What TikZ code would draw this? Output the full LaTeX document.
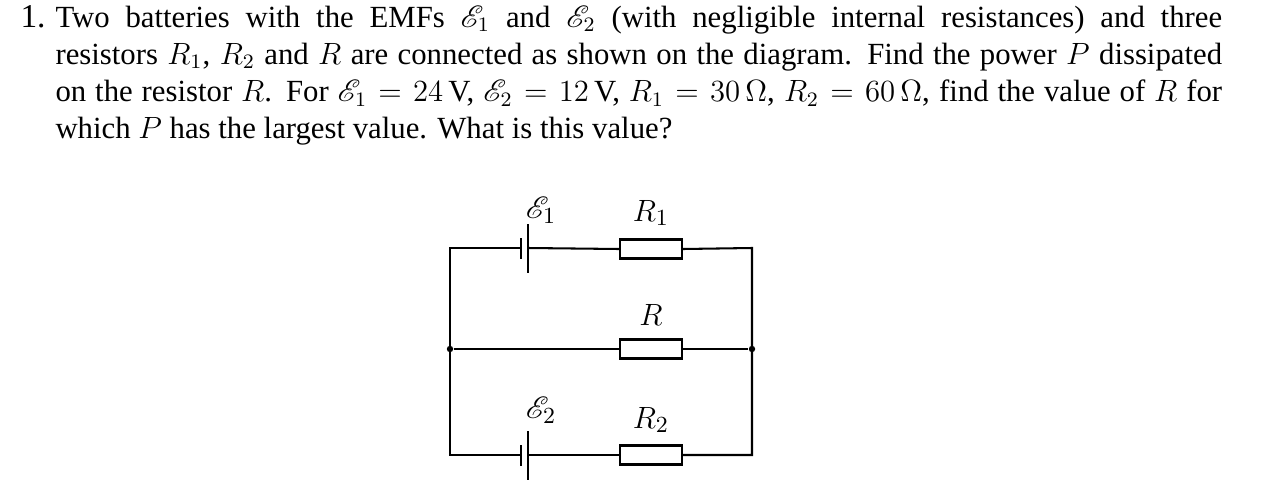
\documentclass[tikz,border=0pt]{standalone}
\usepackage{fontspec}
\setmainfont{Liberation Serif}
\usepackage{mathrsfs}
\tikzset{
	wire/.style={line width=0.8pt},
	res/.style={draw, line width=0.8pt, minimum width=24.2pt, minimum height=7.4pt, inner sep=0pt, fill=white},
	lbl/.style={font=\fontsize{13}{14.5}\selectfont},
	para/.style={font=\fontsize{12}{14.5}\selectfont},
	junc/.style={circle, fill, inner sep=0pt, minimum size=2.5pt}
}
\begin{document}
\begin{tikzpicture}[x=0.39pt, y=-0.39pt]
	\useasboundingbox (0,0) rectangle (1268,494);
	
	\node [lbl, anchor=north west, inner sep=0pt] (num) at (20,5) {1.};
	\node [para, anchor=north west, text width=455pt, align=justify, inner sep=0pt] (txt) at (55,5) {%
	\hyphenpenalty=10000\exhyphenpenalty=10000\emergencystretch=3em
	Two batteries with the EMFs $\mathscr{E}_1$ and $\mathscr{E}_2$ (with negligible internal resistances) and three\linebreak resistors $R_1$, $R_2$ and $R$ are connected as shown on the diagram. Find the power $P$ dissipated\linebreak on the resistor $R$. For $\mathscr{E}_1 = 24$\,V, $\mathscr{E}_2 = 12$\,V, $R_1 = 30$\,$\Omega$, $R_2 = 60$\,$\Omega$, find the value of $R$ for\linebreak which $P$ has the largest value. What is this value?\par};
	
	\coordinate (tl) at (450,248);
	\coordinate (tr) at (752,248);
	\coordinate (bl) at (450,455);
	\coordinate (br) at (752,455);
	\node [junc] (ml) at (450,349) {};
	\node [junc] (mr) at (752,349) {};
	
	\node [res] (r1) at (651,249) {};
	\node [res] (r) at (651,349) {};
	\node [res] (r2) at (651,455) {};
	
	% batteries
	\coordinate (b1s) at (521,248);
	\coordinate (b1l) at (528,248);
	\coordinate (b2s) at (521,455);
	\coordinate (b2l) at (528,455);
	
	\draw [wire] (r1.west) -- (b1l);
	\draw [wire] (b1s) -- (tl) -- (bl) -- (b2s);
	\draw [wire] (b2l) -- (r2.west);
	\draw [wire] (r1.east) -- (tr) -- (br) -- (r2.east);
	\draw [wire] (ml) -- (r.west);
	\draw [wire] (r.east) -- (mr);
	
	\draw [wire] (521,238) -- (521,259);
	\draw [wire] (528,224) -- (528,273);
	\draw [wire] (521,445) -- (521,466);
	\draw [wire] (528,431) -- (528,480);
	
	\node [lbl] (e1) at (541,210) {$\mathscr{E}_1$};
	\node [lbl] (lr1) at (651,213) {$R_1$};
	\node [lbl] (lr) at (651,315) {$R$};
	\node [lbl] (e2) at (541,410) {$\mathscr{E}_2$};
	\node [lbl] (lr2) at (651,420) {$R_2$};
\end{tikzpicture}
\end{document}
